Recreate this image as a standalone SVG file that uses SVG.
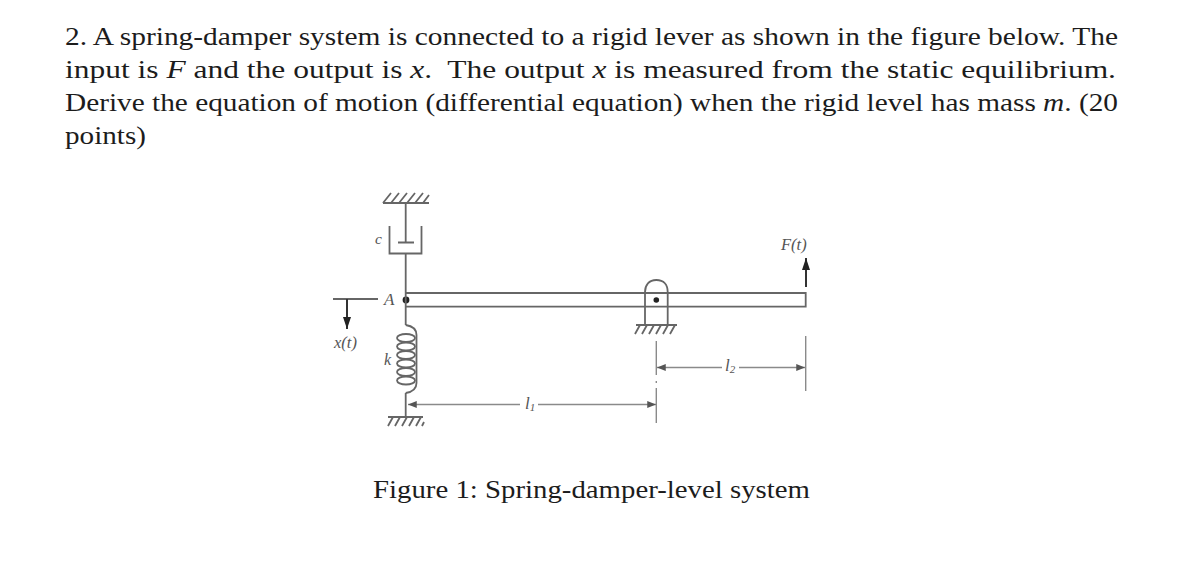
<svg xmlns="http://www.w3.org/2000/svg" width="1189" height="578" viewBox="0 0 1189 578">
<style>
.t{font-family:"Liberation Serif","Times New Roman",serif;font-size:26px;fill:#1c1c1c}
.i{font-style:italic}
.l{font-family:"Liberation Serif","Times New Roman",serif;font-style:italic;font-size:15.5px;fill:#555}
.s{fill:none;stroke:#666;stroke-width:1.8}
.d{fill:none;stroke:#8a8a8a;stroke-width:1.4}
.b{fill:none;stroke:#333;stroke-width:2}
.h{fill:none;stroke:#666;stroke-width:1.8}
</style>
<defs>
<marker id="ah" viewBox="0 0 10 8" refX="10" refY="4" markerWidth="10" markerHeight="7" markerUnits="userSpaceOnUse" orient="auto-start-reverse"><path d="M0 0L10 4L0 8Z" fill="#555"/></marker>
<marker id="bh" viewBox="0 0 12 8" refX="12" refY="4" markerWidth="12" markerHeight="8" markerUnits="userSpaceOnUse" orient="auto"><path d="M0 0L12 4L0 8Z" fill="#222"/></marker>
</defs>
<rect width="1189" height="578" fill="#fff"/>
<g id="problem-text">
<text class="t" x="65" y="45" textLength="1053" lengthAdjust="spacingAndGlyphs">2. A spring-damper system is connected to a rigid lever as shown in the figure below. The</text>
<text class="t" x="65" y="78" textLength="1051" lengthAdjust="spacingAndGlyphs" xml:space="preserve">input is <tspan class="i">F</tspan> and the output is <tspan class="i">x</tspan>.  The output <tspan class="i">x</tspan> is measured from the static equilibrium.</text>
<text class="t" x="65" y="111" textLength="1053" lengthAdjust="spacingAndGlyphs">Derive the equation of motion (differential equation) when the rigid level has mass <tspan class="i">m</tspan>. (20</text>
<text class="t" x="65" y="144" textLength="81" lengthAdjust="spacingAndGlyphs">points)</text>
</g>
<g id="top-support">
<path class="s" d="M383 203H429"/>
<path class="h" d="M383 203L391 193M391 203L399 193M399 203L407 193M407 203L415 193M415 203L423 193M423 203L429 195"/>
</g>
<g id="damper">
<path class="s" d="M389.500 226V253.500H421.500V226M398 242.500H414"/>
<text class="l" x="375" y="244">c</text>
</g>
<g id="lever">
<path class="s" d="M406 293H805.700V306.700H406"/>
</g>
<g id="point-a">
<circle cx="406" cy="300" r="3.400" fill="#222"/>
<text class="l" x="384" y="305" style="font-size:17px">A</text>
</g>
<g id="spring">
<path class="s" d="M405.700 325C412 326 416.500 329 416.500 335V383C416.500 389 412 392 405.700 393"/>
<g class="s">
<ellipse cx="406" cy="338" rx="9" ry="4"/>
<ellipse cx="406" cy="346.500" rx="9" ry="4"/>
<ellipse cx="406" cy="355" rx="9" ry="4"/>
<ellipse cx="406" cy="363.500" rx="9" ry="4"/>
<ellipse cx="406" cy="372" rx="9" ry="4"/>
<ellipse cx="406" cy="380.500" rx="9" ry="4"/>
</g>
<text class="l" x="384" y="365" style="font-size:16px">k</text>
</g>
<g id="bottom-support">
<path class="s" d="M388 417H423"/>
<path class="h" d="M388 426L393 417M395 426L400 417M402 426L407 417M409 426L414 417M416 426L421 417M422 426L424 422"/>
</g>
<g id="pivot">
<path class="s" d="M645 324V292C645 285 649 280 656.300 280C664 280 667.700 285 667.700 292V324"/>
<path class="h" stroke-dasharray="3 2" style="stroke-width:1.2" d="M646 292.800H667M646 306.500H667"/>
<circle cx="656.300" cy="300" r="2.800" fill="#222"/>
<path class="s" d="M636 325H677"/>
<path class="h" d="M635 334L640 325M642 334L647 325M649 334L654 325M656 334L661 325M663 334L668 325M670 334L675 325"/>
</g>
<g id="labels">
<text class="l" x="334" y="348" style="font-size:16.500px">x(t)</text>
<text class="l" x="781" y="250" style="font-size:16.500px">F(t)</text>
<text class="l" x="525" y="409" style="font-size:17px">l<tspan style="font-size:11px" dy="2">1</tspan></text>
<text class="l" x="725" y="371" style="font-size:17px">l<tspan style="font-size:11px" dy="2">2</tspan></text>
</g>
<g id="connectors">
<path class="s" d="M405.700 203V242.500M405.700 253.500V325M405.700 393V417"/>
<path class="s" d="M333 299H378"/>
<path class="b" d="M347 299V329" marker-end="url(#bh)"/>
<path class="b" d="M806 287V258" marker-end="url(#bh)"/>
<path class="d" d="M656.300 341V375M656.300 381V383M656.300 388V423M805.700 336V391"/>
<path class="d" d="M408 404.500H520M538 404.500H656" marker-start="url(#ah)" marker-end="url(#ah)"/>
<path class="d" d="M657 367.500H722M739 367.500H805" marker-start="url(#ah)" marker-end="url(#ah)"/>
</g>
<g id="caption">
<text class="t" x="373" y="498" textLength="437" lengthAdjust="spacingAndGlyphs">Figure 1: Spring-damper-level system</text>
</g>
</svg>
